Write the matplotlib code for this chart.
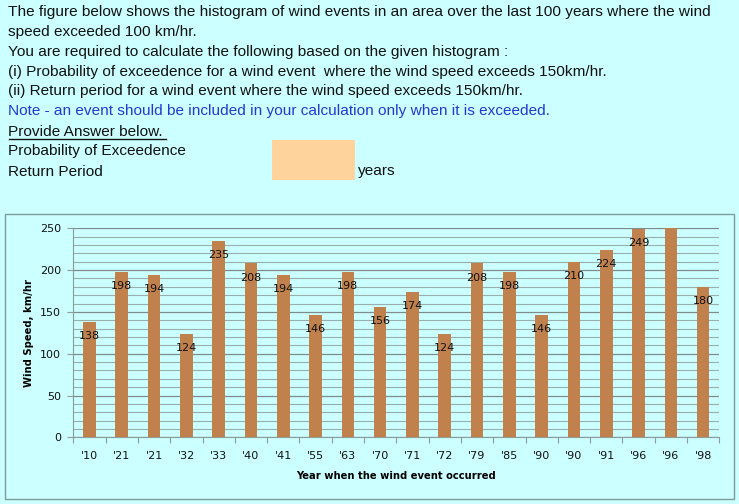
import matplotlib.pyplot as plt
from matplotlib.patches import Rectangle
from matplotlib.lines import Line2D

# data
years = ["'10", "'21", "'21", "'32", "'33", "'40", "'41", "'55", "'63", "'70",
         "'71", "'72", "'79", "'85", "'90", "'90", "'91", "'96", "'96", "'98"]
speeds = [138, 198, 194, 124, 235, 208, 194, 146, 198, 156,
          174, 124, 208, 198, 146, 210, 224, 249, 255, 180]

question = [
    "The figure below shows the histogram of wind events in an area over the last 100 years where the wind",
    "speed exceeded 100 km/hr.",
    "You are required to calculate the following based on the given histogram :",
    "(i) Probability of exceedence for a wind event  where the wind speed exceeds 150km/hr.",
    "(ii) Return period for a wind event where the wind speed exceeds 150km/hr.",
]
note = "Note - an event should be included in your calculation only when it is exceeded."

W, H = 739, 504
bg = '#CCFFFF'
bar_color = '#C0814D'


def fx(px):
    return px / W


def fy(py):
    return 1 - py / H


fig = plt.figure(figsize=(W / 100, H / 100), dpi=100, facecolor=bg)

txt = dict(family='Liberation Sans', fontsize=11.1, va='center', ha='left')
ys = [12.3, 32.3, 52.3, 71.7, 91.0]
for line, y in zip(question, ys):
    fig.text(fx(8), fy(y), line, color='#111111', **txt)
fig.text(fx(8), fy(111.5), note, color='#2638CF', **txt)
fig.text(fx(8), fy(131.5), "Provide Answer below.", color='#111111', **txt)
fig.add_artist(Line2D([fx(9), fx(166)], [fy(139), fy(139)], color='#111111', lw=1))
fig.text(fx(8), fy(151.5), "Probability of Exceedence", color='#111111', **txt)
fig.text(fx(8), fy(171.5), "Return Period", color='#111111', **txt)
fig.text(fx(358), fy(171.5), "years", color='#111111', **txt)

# answer box
fig.add_artist(Rectangle((fx(272), fy(180)), fx(355) - fx(272), fy(140) - fy(180),
                         facecolor='#FFD39B', edgecolor='none'))

# chart frame, drawn under the axes
fig.add_artist(Rectangle((fx(5), fy(499)), fx(734) - fx(5), fy(214) - fy(499),
                         facecolor=bg, edgecolor='#7F9C9C', lw=1, zorder=-5))

ax = fig.add_axes([fx(73.3), fy(437.3), fx(719.3) - fx(73.3), fy(228.3) - fy(437.3)])
ax.patch.set_alpha(0)

x = list(range(len(years)))
ax.bar(x, speeds, width=0.39, color=bar_color, zorder=3)
ymax = 250
for xi, v in zip(x, speeds):
    if v <= ymax:
        ax.text(xi, v - 17, str(v), ha='center', va='center', fontsize=8,
                family='DejaVu Sans', color='#111111', zorder=4)

ax.set_xlim(-0.5, len(years) - 0.5)
ax.set_ylim(0, ymax)
ax.set_yticks(range(0, 251, 50))
ax.set_yticks(range(0, 251, 10), minor=True)
ax.set_xticks([i - 0.5 for i in range(len(years) + 1)])
ax.set_xticklabels([])
ax.set_xticks(x, minor=True)
ax.set_xticklabels(years, minor=True)

ax.grid(axis='y', which='minor', color='#9AAEAE', lw=0.8, zorder=0)
ax.grid(axis='y', which='major', color='#7F8C8C', lw=0.9, zorder=0)
ax.tick_params(axis='x', which='major', length=4, color='#8C9C9C', direction='out')
ax.tick_params(axis='x', which='minor', length=0, pad=10, labelsize=8, labelcolor='#111111')
ax.tick_params(axis='y', which='major', length=4, color='#8C9C9C', pad=5, labelsize=8,
               labelcolor='#111111')
ax.tick_params(axis='y', which='minor', length=0)

for s in ['top', 'right']:
    ax.spines[s].set_visible(False)
for s in ['left', 'bottom']:
    ax.spines[s].set_color('#8C9C9C')

ax.set_ylabel('Wind Speed, km/hr', fontsize=7.2, fontweight='bold', labelpad=4)
ax.set_xlabel('Year when the wind event occurred', fontsize=7.2, fontweight='bold', labelpad=7)

fig.savefig('out.png', dpi=100, facecolor=bg)
